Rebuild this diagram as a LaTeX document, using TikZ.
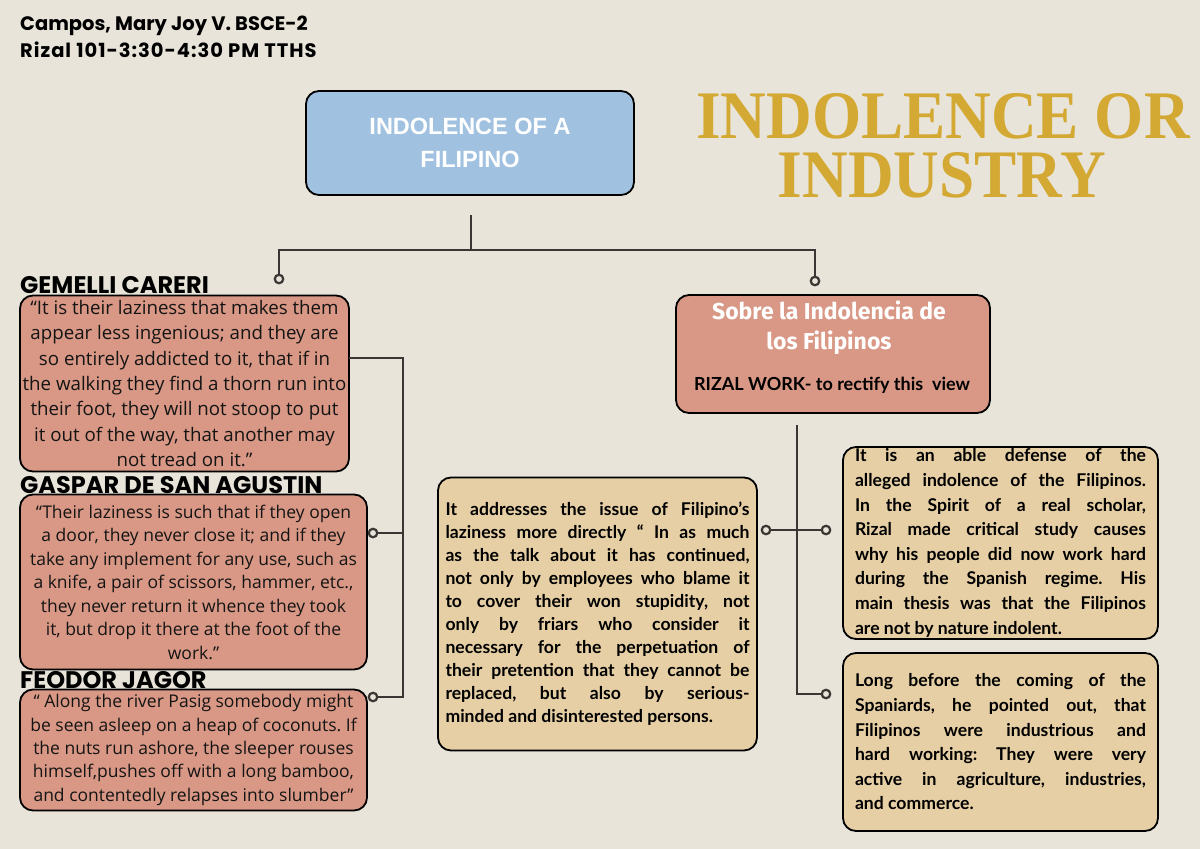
\documentclass[tikz,border=0pt]{standalone}
\usepackage{fontspec}
\usepackage{graphicx}
\setmainfont{Lato}
\newfontfamily\quotefont{Open Sans}
\newfontfamily\headfont{Poppins}
\newfontfamily\boxfont{Liberation Sans}
\newfontfamily\sobrefont{Fira Sans}
\newfontfamily\titlefont{Liberation Serif}
\frenchspacing
\definecolor{bgc}{HTML}{E8E4D9}
\definecolor{salmon}{HTML}{D99885}
\definecolor{tan}{HTML}{E6CFA4}
\definecolor{skyblue}{HTML}{A0C1E0}
\definecolor{gold}{HTML}{D3A933}
\definecolor{wire}{HTML}{3A3633}

\begin{document}
\begin{tikzpicture}[x=1pt, y=-1pt,
  card/.style={draw=black, line width=1.8pt, rounded corners=13pt, inner sep=0pt},
  quotebox/.style={card, fill=salmon, align=center, text=black!92},
  notebox/.style={card, fill=tan, font=\bfseries\fontsize{17.6}{24.6}\selectfont},
  author/.style={anchor=base west, inner sep=0pt, font=\headfont\bfseries\fontsize{24}{24}\selectfont},
  headline/.style={text=gold, inner sep=0pt, anchor=base, font=\titlefont\bfseries\fontsize{68}{68}\selectfont},
  wire/.style={draw=wire, line width=2.8pt},
  dot/.style={circle, draw=wire, line width=2.2pt, fill=bgc, minimum size=8.5pt, inner sep=0pt}]

  % Page and its background.
  \fill[bgc] (0,0) rectangle (1200,849);
  \useasboundingbox (0,0) rectangle (1200,849);

  % Student and class.
  \node[author, font=\headfont\bfseries\fontsize{19.5}{24}\selectfont] (name) at (20,30) {Campos, Mary Joy V. BSCE-2};
  \node[author, font=\headfont\bfseries\fontsize{19.5}{24}\selectfont\addfontfeature{LetterSpace=5}] (class) at (20,57) {Rizal 101-3:30-4:30 PM TTHS};

  % Title.
  \node[headline] (title1) at (943,138) {\scalebox{0.93}[1]{INDOLENCE OR}};
  \node[headline] (title2) at (942,197) {\scalebox{0.93}[1]{INDUSTRY}};

  % Root topic.
  \node[card, fill=skyblue, minimum width=328pt, minimum height=104pt, text=white, align=center,
        font=\boxfont\bfseries\fontsize{23.5}{33}\selectfont] (root) at (470,143)
    {INDOLENCE OF A\\FILIPINO};

  % Fork below the root.
  \coordinate (stem) at (471,215);
  \coordinate (fork) at (471,250);
  \coordinate (forkL) at (279,250);
  \coordinate (forkR) at (815,250);
  \node[dot] (dL) at (279,279) {};
  \node[dot] (dR) at (815,281) {};
  \draw[wire] (stem) -- (fork);
  \draw[wire] (dL.north) -- (forkL) -- (forkR) -- (dR.north);

  % Left branch: the three foreign writers.
  \node[author] (gemelli) at (20,293) {GEMELLI CARERI};
  \node[quotebox, minimum width=329pt, minimum height=176pt, font=\quotefont\fontsize{18.7}{25.4}\selectfont] (q1) at (184.5,383.5)
    {“It is their laziness that makes them\\
     appear less ingenious; and they are\\
     so entirely addicted to it, that if in\\
     the walking they find a thorn run into\\
     their foot, they will not stoop to put\\
     it out of the way, that another may\\
     not tread on it.”};

  \node[author] (gaspar) at (20,493) {GASPAR DE SAN AGUSTIN};
  \node[quotebox, minimum width=347pt, minimum height=175pt, font=\quotefont\fontsize{17.5}{23.5}\selectfont] (q2) at (193.5,582)
    {“Their laziness is such that if they open\\
     a door, they never close it; and if they\\
     take any implement for any use, such as\\
     a knife, a pair of scissors, hammer, etc.,\\
     they never return it whence they took\\
     it, but drop it there at the foot of the\\
     work.”};

  \node[author] (jagor) at (20,688) {FEODOR JAGOR};
  \node[quotebox, minimum width=347pt, minimum height=121pt, font=\quotefont\fontsize{17.5}{23.3}\selectfont] (q3) at (193.5,750)
    {“ Along the river Pasig somebody might\\
     be seen asleep on a heap of coconuts. If\\
     the nuts run ashore, the sleeper rouses\\
     himself,pushes off with a long bamboo,\\
     and contentedly relapses into slumber”};

  % Bus joining the left quotes.
  \coordinate (q1out) at (349,358);
  \coordinate (lbustop) at (403,358);
  \coordinate (lbusbot) at (403,697);
  \node[dot] (dq2) at (373,533) {};
  \node[dot] (dq3) at (373,697) {};
  \draw[wire] (q1out) -- (lbustop) -- (lbusbot) -- (dq3);
  \draw[wire] (dq2) -- (dq2 -| lbustop);

  % Right branch: Rizal's reply.
  \node[card, fill=salmon, minimum width=314pt, minimum height=118pt] (rizal) at (833,354) {};
  \node[text=white, align=center, inner sep=0pt, font=\sobrefont\bfseries\fontsize{23}{30}\selectfont] (sobre) at (829,328)
    {Sobre la Indolencia de\\los Filipinos};
  \node[inner sep=0pt, font=\bfseries\fontsize{18}{24}\selectfont] (work) at (832,385)
    {RIZAL WORK- to rectify this\ \ view};

  \node[notebox, minimum width=319pt, minimum height=273pt, text width=304pt, align=justify,
        font=\bfseries\fontsize{17.6}{23}\selectfont] (issue) at (597.5,614)
    {It addresses the issue of Filipino’s\linebreak
     laziness more directly “ In as much\linebreak
     as the talk about it has continued,\linebreak
     not only by employees who blame it\linebreak
     to cover their won stupidity, not\linebreak
     only by friars who consider it\linebreak
     necessary for the perpetuation of\linebreak
     their pretention that they cannot be\linebreak
     replaced, but also by serious-\linebreak
     minded and disinterested persons.\par};

  \node[notebox, minimum width=315pt, minimum height=192pt, text width=291pt, align=justify] (defense) at (1000.5,543)
    {It is an able defense of the\linebreak
     alleged indolence of the Filipinos.\linebreak
     In the Spirit of a real scholar,\linebreak
     Rizal made critical study causes\linebreak
     why his people did now work hard\linebreak
     during the Spanish regime. His\linebreak
     main thesis was that the Filipinos\linebreak
     are not by nature indolent.\par};

  \node[notebox, minimum width=315pt, minimum height=178pt, text width=291pt, align=justify] (industry) at (1000.5,742)
    {Long before the coming of the\linebreak
     Spaniards, he pointed out, that\linebreak
     Filipinos were industrious and\linebreak
     hard working: They were very\linebreak
     active in agriculture, industries,\linebreak
     and commerce.\par};

  % Bus joining the right notes.
  \coordinate (rbustop) at (797,425);
  \coordinate (rbusbot) at (797,694);
  \node[dot] (dissue) at (766,530) {};
  \node[dot] (ddef) at (826,530) {};
  \node[dot] (dind) at (826,694) {};
  \draw[wire] (rbustop) -- (rbusbot) -- (dind);
  \draw[wire] (dissue) -- (ddef);

\end{tikzpicture}
\end{document}
